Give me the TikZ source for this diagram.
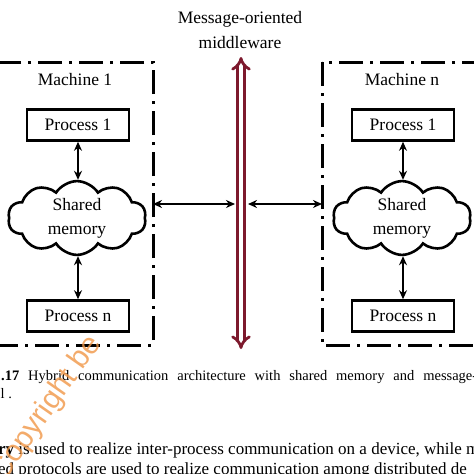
\documentclass[tikz,border=0pt]{standalone}
\usepackage{fontspec}
\setmainfont{Liberation Serif}
\setsansfont{Liberation Sans}
\usetikzlibrary{shapes.symbols,arrows.meta}
\definecolor{mwred}{RGB}{125,25,45}
\definecolor{wmorange}{RGB}{240,150,70}
\begin{document}
\begin{tikzpicture}[x=1pt, y=-1pt,
    machine/.style={draw, line width=3pt, dash pattern=on 24pt off 7pt on 3pt off 7pt},
    process/.style={draw, line width=2.6pt, rectangle, minimum width=102pt, minimum height=31pt, inner sep=0pt, font=\fontsize{17.5}{20}\selectfont},
    memory/.style={draw, line width=2.6pt, cloud, cloud puffs=10, cloud puff arc=115, aspect=2.1, minimum width=138pt, minimum height=68pt, inner sep=0pt, align=center, font=\fontsize{17.5}{24}\selectfont},
    title/.style={font=\fontsize{17.5}{25}\selectfont, align=center},
    link/.style={line width=1.6pt, {Stealth[length=9pt,width=8pt]}-{Stealth[length=9pt,width=8pt]}},
    caption/.style={anchor=west, inner sep=0pt, font=\fontsize{14.5}{17}\selectfont},
    body/.style={anchor=west, inner sep=0pt, font=\fontsize{17}{20}\selectfont}
]
\useasboundingbox (0,0) rectangle (474,474);
\clip (0,0) rectangle (474,474);

% machines
\draw[machine] (-10,62) rectangle (153,345);
\draw[machine] (322,62) rectangle (490,345);

\node[title] (mach1) at (75,80) {Machine 1};
\node[process] (proc1a) at (78,125) {Process 1};
\node[memory] (mem1) at (77,218) {Shared\\memory};
\node[process] (procna) at (78,316) {Process n};

\node[title] (machn) at (402,80) {Machine n};
\node[process] (proc1b) at (403,125) {Process 1};
\node[memory] (memn) at (402,218) {Shared\\memory};
\node[process] (procnb) at (403,316) {Process n};

\draw[link] (proc1a.south) -- (proc1a.south |- mem1.north);
\draw[link] (procna.north |- mem1.south) -- (procna.north);
\draw[link] (proc1b.south) -- (proc1b.south |- memn.north);
\draw[link] (procnb.north |- memn.south) -- (procnb.north);

% middleware
\node[title] (mwlabel) at (240,30) {Message-oriented\\middleware};
\coordinate (mwtop) at (241,57);
\coordinate (mwbot) at (241,349);
\draw[mwred, line width=2.8pt, double=white, double distance=3.5pt, {Implies}-{Implies}] (mwtop) -- (mwbot);

\coordinate (edge1) at (153,204);
\coordinate (mwleft) at (235,204);
\coordinate (mwright) at (248,204);
\coordinate (edgen) at (322,204);
\draw[link] (edge1) -- (mwleft);
\draw[link] (mwright) -- (edgen);

% caption and text
\node[caption] (cap1) at (1,377) {\makebox[476pt][s]{\textbf{.17} Hybrid communication architecture with shared memory and message-}};
\node[caption] (cap2) at (-6,394) {el .};
\node[body] (text1) at (-2,450) {\textbf{ry} is used to realize inter-process communication on a device, while m};
\node[body] (text2) at (-2,470) {ed protocols are used to realize communication among distributed de};

% watermark
\node[rotate=55, text=wmorange, opacity=0.8, font=\fontsize{30}{30}\selectfont\sffamily, anchor=south east] (wmark) at (112,346) {Copyright be};
\end{tikzpicture}
\end{document}
